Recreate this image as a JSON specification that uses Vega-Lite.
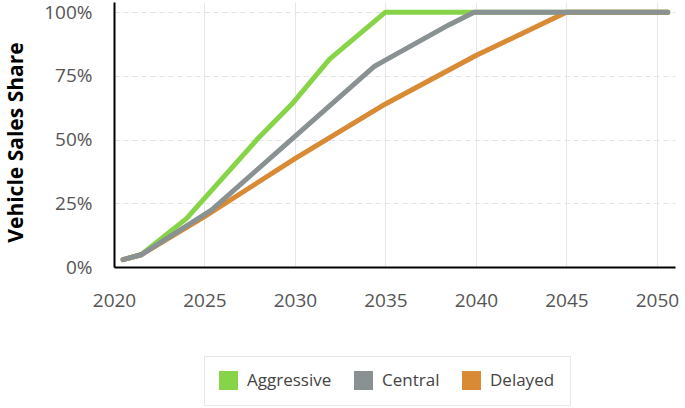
{
  "$schema": "https://vega.github.io/schema/vega-lite/v6.json",
  "width": 561,
  "height": 265,
  "autosize": {"type": "none"},
  "padding": {"left": 114, "top": 2, "right": 10, "bottom": 141},
  "background": "white",
  "config": {
    "view": {"stroke": null},
    "font": "Open Sans"
  },
  "data": {
    "values": [
      {"year": 2020.5, "share": 2.9, "scenario": "Aggressive"},
      {"year": 2021.5, "share": 4.8, "scenario": "Aggressive"},
      {"year": 2024.0, "share": 19.0, "scenario": "Aggressive"},
      {"year": 2027.9, "share": 50.0, "scenario": "Aggressive"},
      {"year": 2029.9, "share": 64.5, "scenario": "Aggressive"},
      {"year": 2031.9, "share": 81.5, "scenario": "Aggressive"},
      {"year": 2035.0, "share": 100.0, "scenario": "Aggressive"},
      {"year": 2040.0, "share": 100.0, "scenario": "Aggressive"},
      {"year": 2045.0, "share": 100.0, "scenario": "Aggressive"},
      {"year": 2050.6, "share": 100.0, "scenario": "Aggressive"},
      {"year": 2020.5, "share": 2.9, "scenario": "Central"},
      {"year": 2021.5, "share": 4.8, "scenario": "Central"},
      {"year": 2025.4, "share": 22.4, "scenario": "Central"},
      {"year": 2030.0, "share": 51.3, "scenario": "Central"},
      {"year": 2034.4, "share": 78.8, "scenario": "Central"},
      {"year": 2035.0, "share": 81.2, "scenario": "Central"},
      {"year": 2038.5, "share": 95.0, "scenario": "Central"},
      {"year": 2039.9, "share": 100.0, "scenario": "Central"},
      {"year": 2045.0, "share": 100.0, "scenario": "Central"},
      {"year": 2050.6, "share": 100.0, "scenario": "Central"},
      {"year": 2020.5, "share": 2.9, "scenario": "Delayed"},
      {"year": 2021.5, "share": 4.8, "scenario": "Delayed"},
      {"year": 2025.0, "share": 19.8, "scenario": "Delayed"},
      {"year": 2030.0, "share": 42.5, "scenario": "Delayed"},
      {"year": 2035.0, "share": 64.0, "scenario": "Delayed"},
      {"year": 2040.0, "share": 83.0, "scenario": "Delayed"},
      {"year": 2045.0, "share": 100.0, "scenario": "Delayed"},
      {"year": 2050.6, "share": 100.0, "scenario": "Delayed"}
    ]
  },
  "encoding": {
    "x": {
      "field": "year",
      "type": "quantitative",
      "scale": {"domain": [2020, 2051], "nice": false, "zero": false},
      "axis": {
        "title": null,
        "values": [2020, 2025, 2030, 2035, 2040, 2045, 2050],
        "format": "d",
        "grid": true,
        "gridColor": "#e6e6e6",
        "gridWidth": 1,
        "domainColor": "#000000",
        "domainWidth": 2,
        "ticks": false,
        "labelPadding": 24,
        "labelFont": "Open Sans",
        "labelFontSize": 19,
        "labelColor": "#555555",
        "labelFlush": false
      }
    },
    "y": {
      "field": "share",
      "type": "quantitative",
      "scale": {"domain": [0, 104], "nice": false},
      "axis": {
        "title": "Vehicle Sales Share",
        "values": [0, 25, 50, 75, 100],
        "labelExpr": "datum.value + '%'",
        "grid": true,
        "gridColor": "#e3e3e3",
        "gridDash": [5, 4],
        "gridWidth": 1,
        "domainColor": "#000000",
        "domainWidth": 2,
        "ticks": false,
        "labelPadding": 22,
        "labelFont": "Open Sans",
        "labelFontSize": 19,
        "labelColor": "#555555",
        "titleFont": "Open Sans",
        "titleFontSize": 21,
        "titleFontWeight": "bold",
        "titleColor": "#000000",
        "titleBaseline": "alphabetic",
        "titleX": -92,
        "titleY": 140,
        "titleAngle": -90,
        "titleAlign": "center"
      }
    },
    "color": {
      "field": "scenario",
      "type": "nominal",
      "scale": {
        "domain": ["Aggressive", "Central", "Delayed"],
        "range": ["#87d449", "#899193", "#d88a35"]
      },
      "legend": {
        "title": null,
        "orient": "none",
        "legendX": 90,
        "legendY": 354,
        "direction": "horizontal",
        "symbolType": "square",
        "symbolSize": 361,
        "symbolStrokeWidth": 0,
        "symbolOpacity": 1,
        "labelFont": "Open Sans",
        "labelFontSize": 17,
        "labelColor": "#444444",
        "labelOffset": 9,
        "columnPadding": 22,
        "padding": 15,
        "strokeColor": "#e6e6e6",
        "fillColor": "#ffffff",
        "cornerRadius": 0,
        "encode": {
          "symbols": {
            "update": {
              "fill": {"scale": "color", "field": "value"},
              "fillOpacity": {"value": 1},
              "strokeWidth": {"value": 0}
            }
          }
        }
      }
    }
  },
  "layer": [
    {
      "transform": [{"filter": "datum.scenario == 'Aggressive'"}],
      "mark": {"type": "line", "strokeWidth": 5, "strokeCap": "round", "strokeJoin": "round"}
    },
    {
      "transform": [{"filter": "datum.scenario == 'Delayed'"}],
      "mark": {"type": "line", "strokeWidth": 5, "strokeCap": "round", "strokeJoin": "round"}
    },
    {
      "transform": [{"filter": "datum.scenario == 'Central'"}],
      "mark": {"type": "line", "strokeWidth": 5, "strokeCap": "round", "strokeJoin": "round"}
    }
  ]
}
